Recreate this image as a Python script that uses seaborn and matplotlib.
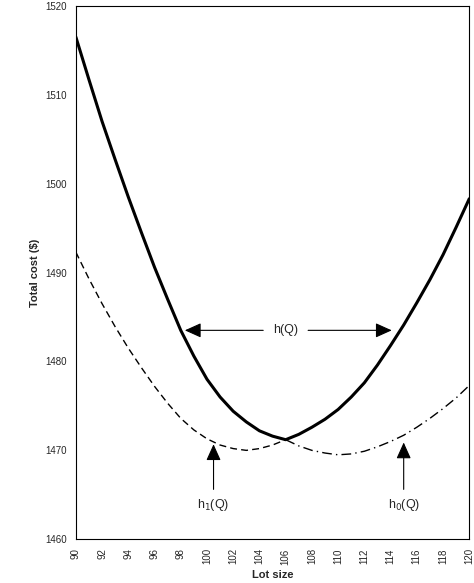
import numpy as np
import pandas as pd
import seaborn as sns
import matplotlib.pyplot as plt

# values
solid_x = list(range(90, 121))
solid_y = [1516.5, 1511.7, 1507.0, 1502.7, 1498.5, 1494.5, 1490.6, 1487.0, 1483.5, 1480.6,
           1478.0, 1476.0, 1474.4, 1473.2, 1472.2, 1471.6, 1471.2, 1471.8, 1472.6, 1473.5,
           1474.6, 1476.0, 1477.6, 1479.6, 1481.8, 1484.1, 1486.6, 1489.2, 1492.0, 1495.1,
           1498.3]
h1_x = list(range(90, 107))
h1_y = [1492.3, 1489.3, 1486.5, 1483.9, 1481.5, 1479.3, 1477.2, 1475.3, 1473.6, 1472.3,
        1471.3, 1470.6, 1470.2, 1470.0, 1470.2, 1470.6, 1471.2]
h0_x = list(range(106, 121))
h0_y = [1471.2, 1470.5, 1470.0, 1469.7, 1469.5, 1469.6, 1469.9, 1470.4, 1471.0, 1471.7,
        1472.6, 1473.6, 1474.7, 1475.9, 1477.3]

sns.set_style('white')
plt.rcParams['font.family'] = ['Liberation Sans', 'DejaVu Sans']

fig, ax = plt.subplots(figsize=(4.74, 5.83), dpi=100)
sns.lineplot(x=solid_x, y=solid_y, ax=ax, color='black', lw=2.2)
sns.lineplot(x=h1_x, y=h1_y, ax=ax, color='black', lw=1, linestyle=(0, (5, 3)))
sns.lineplot(x=h0_x, y=h0_y, ax=ax, color='black', lw=1, linestyle=(0, (7, 3, 1, 3)))

arrow = dict(arrowstyle='-|>,head_length=1.0,head_width=0.45', color='black', lw=0.8)
ax.annotate('', xy=(98.1, 1483.5), xytext=(104.5, 1483.5), arrowprops=arrow)
ax.annotate('', xy=(114.3, 1483.5), xytext=(107.5, 1483.5), arrowprops=arrow)
ax.text(106, 1483.5, 'h(Q)', ha='center', va='center', fontsize=9)
ax.annotate('', xy=(100.5, 1471.0), xytext=(100.5, 1465.3), arrowprops=arrow)
ax.text(100.5, 1463.8, 'h$_1$(Q)', ha='center', va='center', fontsize=9)
ax.annotate('', xy=(115.0, 1471.2), xytext=(115.0, 1465.3), arrowprops=arrow)
ax.text(115.0, 1463.8, 'h$_0$(Q)', ha='center', va='center', fontsize=9)

ax.set_xlim(90, 120)
ax.set_ylim(1460, 1520)
ax.set_xticks(range(90, 121, 2))
ax.set_yticks(range(1460, 1521, 10))
ax.tick_params(axis='x', labelrotation=90, labelsize=7, length=3, direction='out')
ax.tick_params(axis='y', labelsize=7, length=3, direction='out')
ax.set_xlabel('Lot size', fontsize=8, fontweight='bold')
ax.set_ylabel('Total cost ($)', fontsize=8, fontweight='bold')
for s in ax.spines.values():
    s.set_color('black')
    s.set_linewidth(0.8)

plt.subplots_adjust(left=0.16, right=0.99, top=0.99, bottom=0.075)
plt.savefig('out.png', dpi=100)
